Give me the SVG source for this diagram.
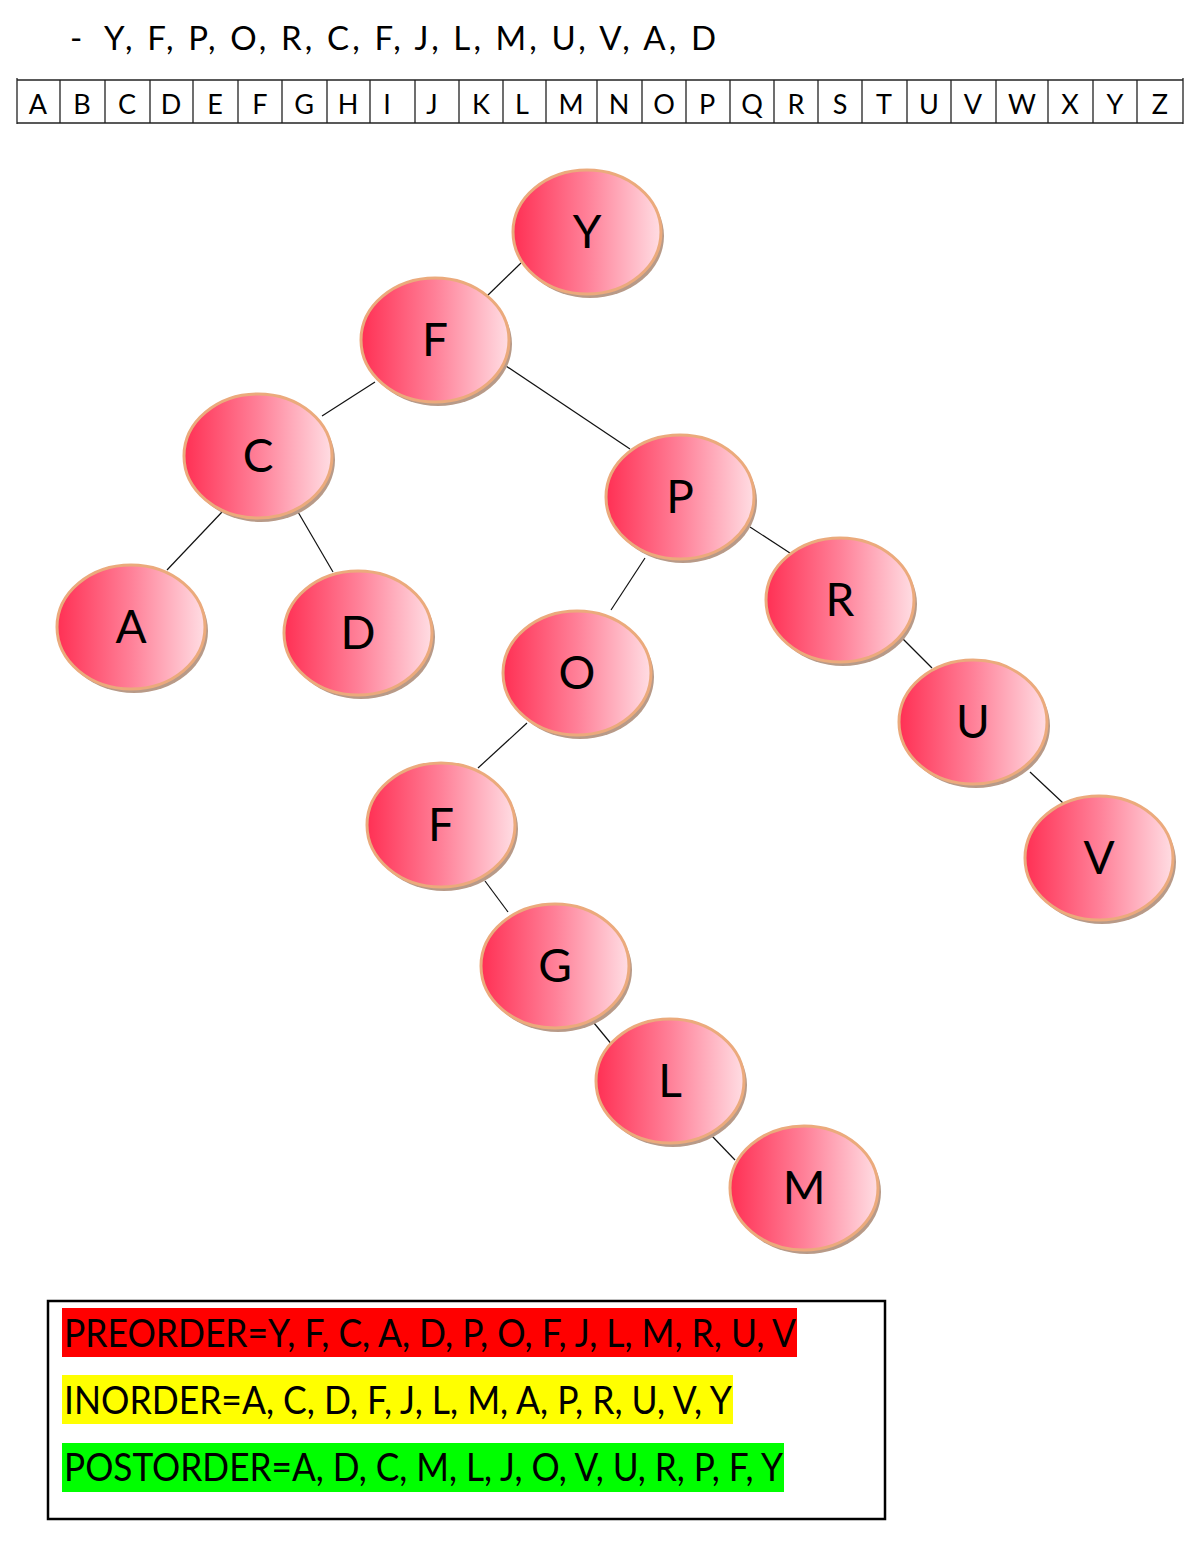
<svg xmlns="http://www.w3.org/2000/svg" width="1200" height="1553" viewBox="0 0 1200 1553">
<defs>
<linearGradient id="g" x1="0" y1="0" x2="1" y2="0">
<stop offset="0" stop-color="#FF3054"/>
<stop offset="0.5" stop-color="#FF8098"/>
<stop offset="1" stop-color="#FFDDE3"/>
</linearGradient>
<g id="nd">
<ellipse cx="3" cy="4" rx="74" ry="62" fill="#B89A88"/>
<ellipse cx="0" cy="0" rx="74" ry="62" fill="url(#g)" stroke="#EBAA7C" stroke-width="3"/>
</g>
</defs>
<style>
.hd{font-family:Lato,"Open Sans",sans-serif;font-size:33px;fill:#000}
.tb{font-family:Lato,"Open Sans",sans-serif;font-size:27px;fill:#000;text-anchor:middle}
.lb{font-family:Lato,"Open Sans",sans-serif;font-size:46px;fill:#000;text-anchor:middle}
.bx{font-family:Lato,"Open Sans",sans-serif;font-size:38px;fill:#000}
.cell{fill:none;stroke:#222;stroke-width:1.3}
.edge{stroke:#111;stroke-width:1.2;fill:none}
</style>
<rect width="1200" height="1553" fill="#fff"/>
<text class="hd" x="70" y="50">-</text>
<text class="hd" x="104" y="50" textLength="612" lengthAdjust="spacing">Y, F, P, O, R, C, F, J, L, M, U, V, A, D</text>
<g id="alphabet">
<line class="cell" x1="17" y1="80" x2="1183" y2="80"/>
<line class="cell" x1="17" y1="123" x2="1183" y2="123"/>
<path class="cell" d="M17 78V124M60 80V123M105 80V123M150 80V123M193 80V123M238 80V123M282 80V123M327 80V123M370 80V123M415 80V123M459 80V123M503 80V123M546 80V123M597 80V123M642 80V123M686 80V123M730 80V123M774 80V123M818 80V123M862 80V123M907 80V123M951 80V123M996 80V123M1048 80V123M1093 80V123M1137 80V123M1183 78V124"/>
<text class="tb" y="114"><tspan x="38">A</tspan><tspan x="82">B</tspan><tspan x="127">C</tspan><tspan x="171">D</tspan><tspan x="215">E</tspan><tspan x="260">F</tspan><tspan x="304">G</tspan><tspan x="348">H</tspan><tspan x="387">I</tspan><tspan x="432">J</tspan><tspan x="481">K</tspan><tspan x="522">L</tspan><tspan x="571">M</tspan><tspan x="619">N</tspan><tspan x="664">O</tspan><tspan x="707">P</tspan><tspan x="752">Q</tspan><tspan x="796">R</tspan><tspan x="840">S</tspan><tspan x="884">T</tspan><tspan x="929">U</tspan><tspan x="973">V</tspan><tspan x="1022">W</tspan><tspan x="1070">X</tspan><tspan x="1115">Y</tspan><tspan x="1160">Z</tspan></text>
</g>
<g id="connectors">
<line class="edge" x1="521" y1="263" x2="486" y2="297"/>
<line class="edge" x1="375" y1="382" x2="322" y2="416"/>
<line class="edge" x1="506" y1="366" x2="630" y2="449"/>
<line class="edge" x1="222" y1="512" x2="167" y2="570"/>
<line class="edge" x1="298" y1="512" x2="333" y2="572"/>
<line class="edge" x1="645" y1="558" x2="611" y2="610"/>
<line class="edge" x1="750" y1="527" x2="793" y2="555"/>
<line class="edge" x1="901" y1="637" x2="932" y2="668"/>
<line class="edge" x1="527" y1="723" x2="478" y2="768"/>
<line class="edge" x1="1030" y1="772" x2="1063" y2="803"/>
<line class="edge" x1="485" y1="881" x2="508" y2="912"/>
<line class="edge" x1="594" y1="1023" x2="613" y2="1046"/>
<line class="edge" x1="711" y1="1135" x2="735" y2="1160"/>
</g>
<g id="node-Y"><use href="#nd" x="587" y="232"/><text class="lb" x="587" y="248">Y</text></g>
<g id="node-F"><use href="#nd" x="435" y="340"/><text class="lb" x="435" y="356">F</text></g>
<g id="node-C"><use href="#nd" x="258" y="456"/><text class="lb" x="258" y="472">C</text></g>
<g id="node-P"><use href="#nd" x="680" y="497"/><text class="lb" x="680" y="513">P</text></g>
<g id="node-A"><use href="#nd" x="131" y="627"/><text class="lb" x="131" y="643">A</text></g>
<g id="node-D"><use href="#nd" x="358" y="633"/><text class="lb" x="358" y="649">D</text></g>
<g id="node-R"><use href="#nd" x="840" y="600"/><text class="lb" x="840" y="616">R</text></g>
<g id="node-O"><use href="#nd" x="577" y="673"/><text class="lb" x="577" y="689">O</text></g>
<g id="node-U"><use href="#nd" x="973" y="722"/><text class="lb" x="973" y="738">U</text></g>
<g id="node-F2"><use href="#nd" x="441" y="825"/><text class="lb" x="441" y="841">F</text></g>
<g id="node-V"><use href="#nd" x="1099" y="858"/><text class="lb" x="1099" y="874">V</text></g>
<g id="node-G"><use href="#nd" x="555" y="966"/><text class="lb" x="555" y="982">G</text></g>
<g id="node-L"><use href="#nd" x="670" y="1081"/><text class="lb" x="670" y="1097">L</text></g>
<g id="node-M"><use href="#nd" x="804" y="1188"/><text class="lb" x="804" y="1204">M</text></g>
<g id="traversals">
<rect x="48" y="1301" width="837" height="218" fill="#fff" stroke="#000" stroke-width="2.5"/>
<rect x="62" y="1308" width="735" height="49" fill="#FF0000"/>
<rect x="62" y="1375" width="671" height="49" fill="#FFFF00"/>
<rect x="62" y="1443" width="722" height="49" fill="#00FF00"/>
<text class="bx" x="64" y="1347" textLength="732" lengthAdjust="spacingAndGlyphs">PREORDER=Y, F, C, A, D, P, O, F, J, L, M, R, U, V</text>
<text class="bx" x="64" y="1414" textLength="668" lengthAdjust="spacingAndGlyphs">INORDER=A, C, D, F, J, L, M, A, P, R, U, V, Y</text>
<text class="bx" x="64" y="1481" textLength="719" lengthAdjust="spacingAndGlyphs">POSTORDER=A, D, C, M, L, J, O, V, U, R, P, F, Y</text>
</g>
</svg>
